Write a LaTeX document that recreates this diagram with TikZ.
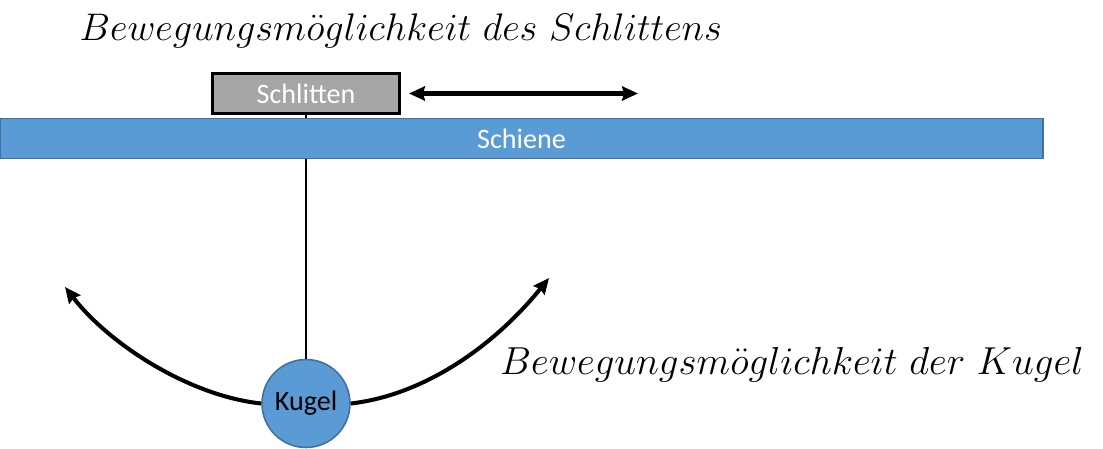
\documentclass[tikz,border=0pt]{standalone}
\usepackage{amsmath}
\usepackage{fontspec}
\setsansfont{Carlito}
\usepackage{xcolor}
\usetikzlibrary{arrows.meta}
\definecolor{blau}{HTML}{5B9BD5}
\definecolor{blaurand}{HTML}{41719C}
\definecolor{grau}{HTML}{A6A6A6}
\begin{document}
\begin{tikzpicture}[x=0.02cm, y=-0.02cm,
    beschriftung/.style={font=\fontsize{20.74}{25}\selectfont, inner sep=0pt, transform shape, scale=1.055},
    bewegung/.style={line width=2.3pt, -{Stealth[length=9pt, width=8pt, inset=1pt]}},
    teil/.style={font=\sffamily\fontsize{16}{19}\selectfont, inner sep=0pt}]
    \useasboundingbox (0,0) rectangle (1103,449);
    % Schlitten und Kugel
    \node[teil, draw=black, line width=1.6pt, fill=grau, text=white,
      minimum width=3.74cm, minimum height=0.8cm] (schlitten) at (306,93.5) {Schlitten};
    \node[teil, circle, draw=blaurand, line width=0.9pt, fill=blau,
      minimum size=1.76cm] (kugel) at (306,403.5) {Kugel};
    % Seil
    \draw[line width=0.9pt] (schlitten.south) -- (kugel.north);
    % Schiene
    \node[teil, draw=blaurand, line width=0.9pt, fill=blau, text=white,
      minimum width=20.86cm, minimum height=0.8cm] (schiene) at (521.5,138.5) {Schiene};
    % Bewegung des Schlittens
    \coordinate (links) at (409,93.5);
    \coordinate (rechts) at (638,93.5);
    \draw[line width=2.3pt, {Stealth[length=9pt, width=8pt, inset=1pt]}-{Stealth[length=9pt, width=8pt, inset=1pt]}]
      (links) -- (rechts);
    % Bewegung der Kugel
    \coordinate (bogenlinks) at (65,287);
    \coordinate (bogenrechts) at (549,278);
    \draw[bewegung] (kugel.west) .. controls (190,396) and (110,345) .. (bogenlinks);
    \draw[bewegung] (kugel.east) .. controls (425,395) and (495,345) .. (bogenrechts);
    % Beschriftungen
    \node[beschriftung] (titel) at (401,31)
      {$Bewegungsm\ddot{o}glichkeit\ des\ Schlittens$};
    \node[beschriftung, scale=1.015] (kugeltext) at (792,365)
      {$Bewegungsm\ddot{o}glichkeit\ der\ Kugel$};
\end{tikzpicture}
\end{document}
